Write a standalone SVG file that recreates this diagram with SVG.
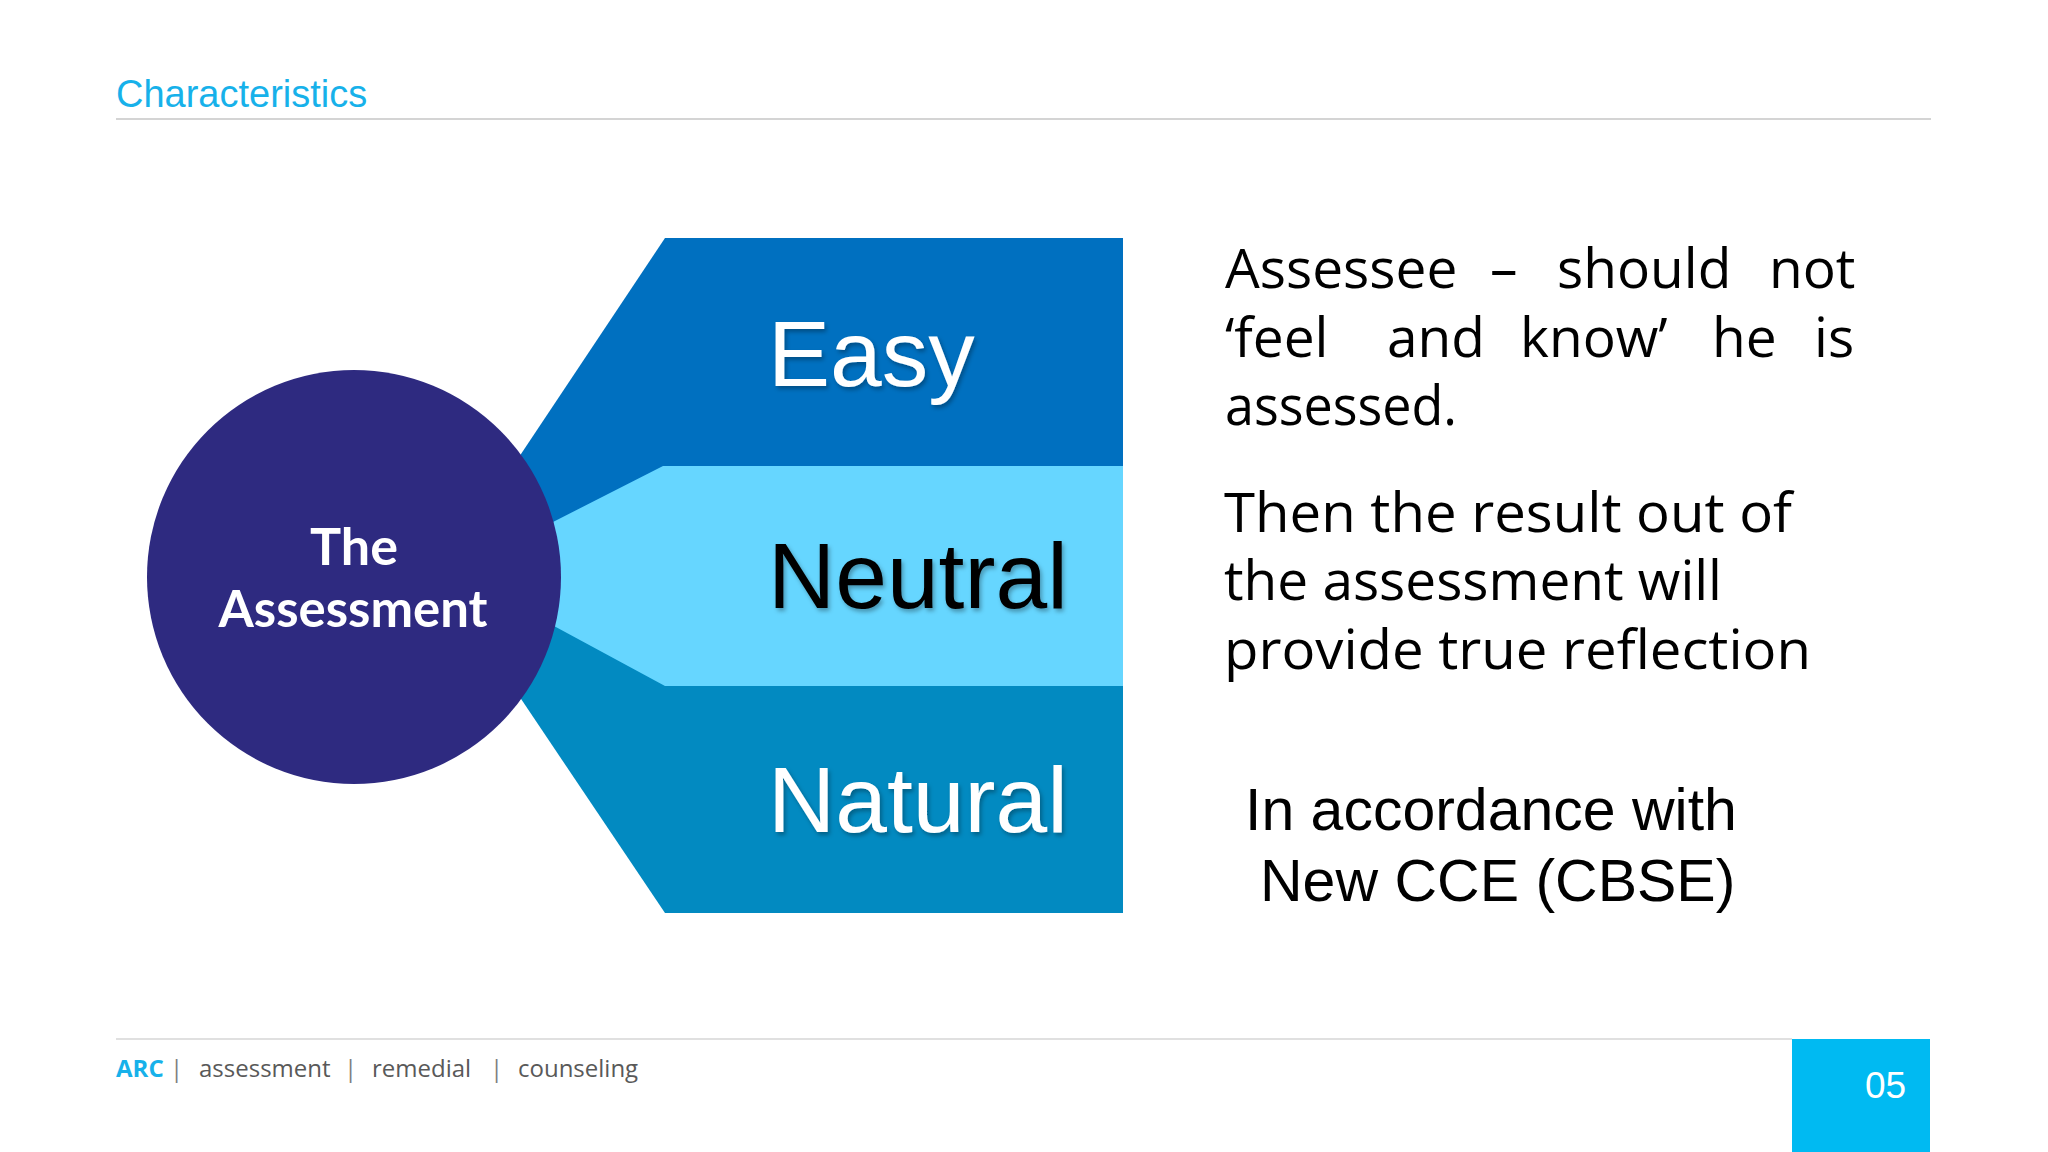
<svg xmlns="http://www.w3.org/2000/svg" width="2048" height="1152" viewBox="0 0 2048 1152">
<style>
.title{font-family:"Liberation Sans",Arial,sans-serif;font-size:38px;fill:#17b1ea}
.foot{font-family:"Open Sans",sans-serif;font-size:24px;fill:#595959}
.sep{font-family:"Open Sans",sans-serif;font-size:24px;fill:#7f7f7f}
.arc{font-family:"Open Sans",sans-serif;font-size:24px;font-weight:bold;fill:#17b1ea}
.body{font-family:"Open Sans",sans-serif;font-size:55px;fill:#000}
.big{font-family:"Liberation Sans",Arial,sans-serif;font-size:93px}
.cce{font-family:"Liberation Sans",Arial,sans-serif;font-size:59px;fill:#000}
.ctext{font-family:Lato,"Open Sans",sans-serif;font-size:52px;font-weight:bold;fill:#fff;text-anchor:middle}
</style>
<defs>
<filter id="sh" x="-10%" y="-10%" width="130%" height="140%">
<feDropShadow dx="2" dy="3" stdDeviation="2" flood-color="#000" flood-opacity="0.3"/>
</filter>
</defs>
<rect width="2048" height="1152" fill="#fff"/>

<g id="header">
<text class="title" x="116" y="107">Characteristics</text>
<rect x="116" y="118" width="1815" height="2" fill="#d4d4d4"/>
</g>

<g id="connectors"></g>

<g id="node-easy">
<polygon points="439,577 665,238 1123,238 1123,577" fill="#0070c0"/>
<text class="big" x="768" y="386" fill="#fff" filter="url(#sh)">Easy</text>
</g>
<g id="node-natural">
<polygon points="439,577 1123,577 1123,913 665,913" fill="#028ac1"/>
<text class="big" x="768" y="832" fill="#fff" filter="url(#sh)">Natural</text>
</g>
<g id="node-neutral">
<polygon points="663,466 1123,466 1123,686 665,686 554,626 460,577 447,577 553,522" fill="#66d6ff"/>
<text class="big" x="768" y="608" fill="#000" filter="url(#sh)">Neutral</text>
</g>

<g id="node-assessment">
<circle cx="354" cy="577" r="207" fill="#2e2a80"/>
<text class="ctext" x="354" y="565">The</text>
<text class="ctext" x="353" y="627" textLength="269" lengthAdjust="spacingAndGlyphs">Assessment</text>
</g>

<g id="text-right">
<text class="body" y="288"><tspan x="1225">Assessee</tspan><tspan x="1490">–</tspan><tspan x="1557">should</tspan><tspan x="1769">not</tspan></text>
<text class="body" y="357"><tspan x="1225">‘feel</tspan><tspan x="1387">and</tspan><tspan x="1520">know’</tspan><tspan x="1712">he</tspan><tspan x="1814">is</tspan></text>
<text class="body" x="1225" y="425" textLength="232" lengthAdjust="spacingAndGlyphs">assessed.</text>
<text class="body" x="1224" y="532" textLength="568" lengthAdjust="spacingAndGlyphs">Then the result out of</text>
<text class="body" x="1224" y="600" textLength="498" lengthAdjust="spacingAndGlyphs">the assessment will</text>
<text class="body" x="1224" y="669" textLength="587" lengthAdjust="spacingAndGlyphs">provide true reflection</text>
<text class="cce" x="1245" y="830">In accordance with</text>
<text class="cce" x="1260" y="901">New CCE (CBSE)</text>
</g>

<g id="footer">
<rect x="116" y="1038" width="1676" height="2" fill="#e0e0e0"/>
<text class="arc" x="116" y="1077">ARC</text>
<text class="sep" x="170" y="1077">|</text>
<text class="foot" x="199" y="1077">assessment</text>
<text class="sep" x="344" y="1077">|</text>
<text class="foot" x="372" y="1077">remedial</text>
<text class="sep" x="490" y="1077">|</text>
<text class="foot" x="518" y="1077">counseling</text>
<rect x="1792" y="1039" width="138" height="113" fill="#00baf2"/>
<text x="1865" y="1098" font-family="Liberation Sans, Arial, sans-serif" font-size="37" fill="#fff">05</text>
</g>
</svg>
